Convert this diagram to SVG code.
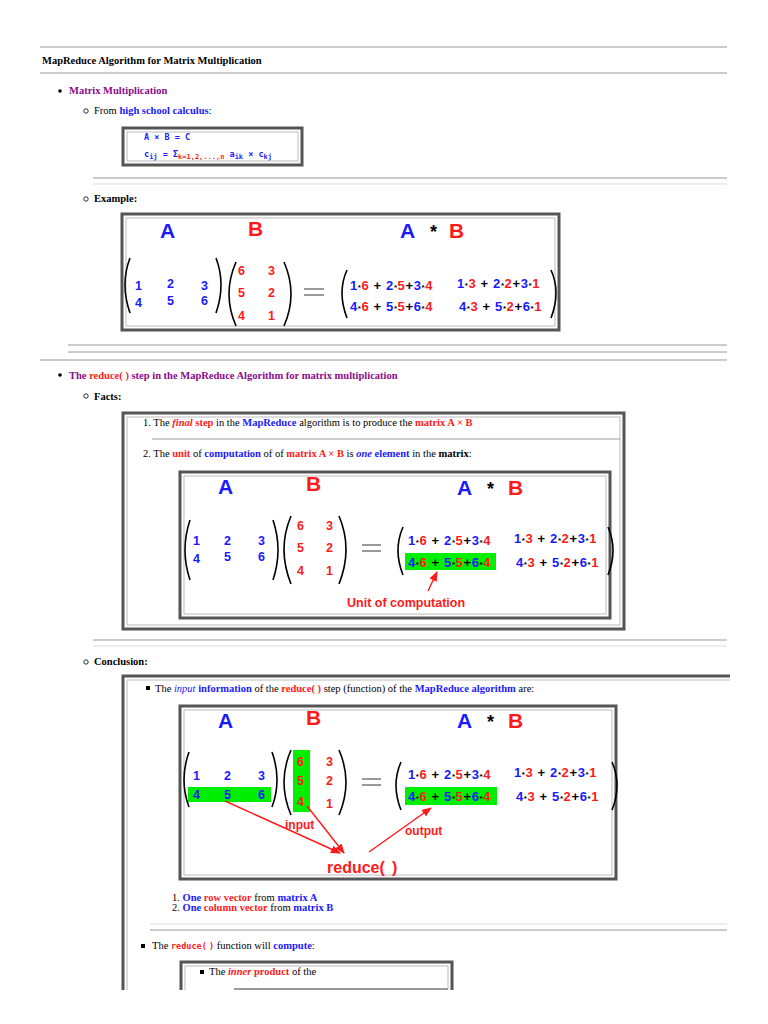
<svg xmlns="http://www.w3.org/2000/svg" width="768" height="1024" viewBox="0 0 768 1024">
<style>
.t{font-family:"Liberation Serif",serif;font-size:10.5px;fill:#000}
.b{font-weight:bold}
.bl{fill:#1a1aff}.rd{fill:#ff1a1a}.pu{fill:#8b0a8b}
.f{font-family:"Liberation Sans",sans-serif;font-weight:bold}
.big{font-size:21px}
.num{font-size:12.5px}
.res{font-size:13px;letter-spacing:0.6px}
.hr{stroke:#999;stroke-width:1.2}
.hr2{stroke:#ddd;stroke-width:1}
.frame{fill:#fff;stroke:#555;stroke-width:3}
.in{fill:none;stroke:#bbb;stroke-width:1}
.par{fill:none;stroke:#000;stroke-width:1.6}
.grn{fill:#00ee00}
.arr{stroke:#ff1a1a;stroke-width:1.4;fill:none;marker-end:url(#ah)}
.mono{font-family:"DejaVu Sans Mono",monospace;font-size:8.5px;font-weight:bold}
</style>
<defs>
<marker id="ah" markerWidth="10" markerHeight="8" refX="9" refY="4" orient="auto" markerUnits="userSpaceOnUse"><path d="M0,0 L10,4 L0,8 Z" fill="#ff1a1a"/></marker>
</defs>
<rect width="768" height="1024" fill="#fff"/>
<line class="hr" x1="40" y1="47" x2="727" y2="47"/>
<text class="t b" x="42" y="64" font-size="12.5">MapReduce Algorithm for Matrix Multiplication</text>
<line class="hr" x1="40" y1="73" x2="727" y2="73"/>

<circle cx="60" cy="91" r="1.8"/>
<text class="t b pu" x="69" y="94">Matrix Multiplication</text>
<circle cx="86" cy="111" r="2.2" fill="none" stroke="#000" stroke-width="0.8"/>
<text class="t" x="94" y="114">From <tspan class="b bl">high school calculus</tspan>:</text>

<g id="formula">
<rect x="123" y="128" width="179" height="37" fill="#fff" stroke="#555" stroke-width="3"/>
<rect x="127" y="132" width="171" height="29" class="in"/>
<text class="mono bl" x="144" y="140">A × B = C</text>
<text class="mono bl" x="144" y="157">c<tspan dy="2" font-size="7">ij</tspan><tspan dy="-2"> = Σ</tspan><tspan class="rd" dy="2" font-size="7">k=1,2,...,n</tspan><tspan dy="-2"> a</tspan><tspan dy="2" font-size="7">ik</tspan><tspan dy="-2"> × c</tspan><tspan dy="2" font-size="7">kj</tspan></text>
</g>
<line class="hr" x1="93" y1="178" x2="727" y2="178"/>
<line class="hr2" x1="93" y1="184" x2="727" y2="184"/>

<circle cx="86" cy="199" r="2.2" fill="none" stroke="#000" stroke-width="0.8"/>
<text class="t b" x="94" y="202">Example:</text>

<g id="example">
<rect x="122" y="214" width="437" height="116" class="frame"/>
<rect x="126" y="218" width="429" height="108" class="in"/>
<text class="f big bl" x="160" y="238">A</text>
<text class="f big rd" x="248" y="236">B</text>
<text class="f big bl" x="400" y="238">A</text>
<text class="f" x="430" y="238" font-size="18">*</text>
<text class="f big rd" x="449" y="238">B</text>
<path class="par" d="M130,258 Q120,284 130,313"/>
<path class="par" d="M216,258 Q226,284 216,313"/>
<g class="f num bl"><text x="135" y="290">1</text><text x="167" y="288">2</text><text x="201" y="290">3</text><text x="135" y="307">4</text><text x="167" y="305">5</text><text x="201" y="305">6</text></g>
<path class="par" d="M236,262 Q222,294 236,326"/>
<path class="par" d="M284,262 Q298,294 284,326"/>
<g class="f num rd"><text x="238" y="275">6</text><text x="268" y="275">3</text><text x="238" y="297">5</text><text x="268" y="297">2</text><text x="238" y="320">4</text><text x="268" y="320">1</text></g>
<line x1="304" y1="289" x2="324" y2="289" stroke="#555" stroke-width="1.2"/>
<line x1="304" y1="295" x2="324" y2="295" stroke="#555" stroke-width="1.2"/>
<path class="par" d="M347,270 Q337,292 347,318"/>
<path class="par" d="M551,270 Q561,292 551,318"/>
<g class="f res">
<text x="350" y="290"><tspan class="bl">1</tspan><tspan font-size="8">*</tspan><tspan class="rd">6</tspan> + <tspan class="bl">2</tspan><tspan font-size="8">*</tspan><tspan class="rd">5</tspan>+<tspan class="bl">3</tspan><tspan font-size="8">*</tspan><tspan class="rd">4</tspan></text>
<text x="457" y="288"><tspan class="bl">1</tspan><tspan font-size="8">*</tspan><tspan class="rd">3</tspan> + <tspan class="bl">2</tspan><tspan font-size="8">*</tspan><tspan class="rd">2</tspan>+<tspan class="bl">3</tspan><tspan font-size="8">*</tspan><tspan class="rd">1</tspan></text>
<text x="350" y="311"><tspan class="bl">4</tspan><tspan font-size="8">*</tspan><tspan class="rd">6</tspan> + <tspan class="bl">5</tspan><tspan font-size="8">*</tspan><tspan class="rd">5</tspan>+<tspan class="bl">6</tspan><tspan font-size="8">*</tspan><tspan class="rd">4</tspan></text>
<text x="459" y="311"><tspan class="bl">4</tspan><tspan font-size="8">*</tspan><tspan class="rd">3</tspan> + <tspan class="bl">5</tspan><tspan font-size="8">*</tspan><tspan class="rd">2</tspan>+<tspan class="bl">6</tspan><tspan font-size="8">*</tspan><tspan class="rd">1</tspan></text>
</g>
</g>
<line class="hr" x1="68" y1="345" x2="727" y2="345"/>
<line class="hr" x1="68" y1="352" x2="727" y2="352"/>
<line class="hr" x1="40" y1="360" x2="727" y2="360"/>

<circle cx="60" cy="375" r="1.8"/>
<text class="t b pu" x="69" y="379">The <tspan class="rd">reduce( )</tspan> step in the MapReduce Algorithm for matrix multiplication</text>
<circle cx="86" cy="396" r="2.2" fill="none" stroke="#000" stroke-width="0.8"/>
<text class="t b" x="94" y="400">Facts:</text>

<g id="facts">
<rect x="123" y="413" width="501" height="216" class="frame"/>
<rect x="127" y="417" width="493" height="208" class="in"/>
<text class="t" x="143" y="426">1. The <tspan class="b rd" font-style="italic">final</tspan> <tspan class="b rd">step</tspan> in the <tspan class="b bl">MapReduce</tspan> algorithm is to produce the <tspan class="b rd">matrix A × B</tspan></text>
<line class="hr" x1="152" y1="439" x2="620" y2="439"/>
<text class="t" x="143" y="457">2. The <tspan class="b rd">unit</tspan> of <tspan class="b bl">computation</tspan> of of <tspan class="b rd">matrix A × B</tspan> is <tspan class="b bl" font-style="italic">one</tspan> <tspan class="b bl">element</tspan> in the <tspan class="b">matrix</tspan>:</text>
</g>

<g id="fig2">
<rect x="180" y="472" width="430" height="146" class="frame"/>
<rect x="184" y="476" width="422" height="138" class="in"/>
<text class="f big bl" x="218" y="494">A</text>
<text class="f big rd" x="306" y="491">B</text>
<text class="f big bl" x="457" y="495">A</text>
<text class="f" x="487" y="495" font-size="18">*</text>
<text class="f big rd" x="508" y="495">B</text>
<path class="par" d="M190,520 Q180,550 190,580"/>
<path class="par" d="M273,520 Q283,550 273,580"/>
<g class="f num bl"><text x="193" y="545">1</text><text x="224" y="545">2</text><text x="258" y="545">3</text><text x="193" y="563">4</text><text x="224" y="561">5</text><text x="258" y="561">6</text></g>
<path class="par" d="M291,516 Q277,549 291,584"/>
<path class="par" d="M339,516 Q353,549 339,584"/>
<g class="f num rd"><text x="297" y="530">6</text><text x="326" y="530">3</text><text x="297" y="552">5</text><text x="326" y="552">2</text><text x="297" y="575">4</text><text x="326" y="575">1</text></g>
<line x1="362" y1="545" x2="381" y2="545" stroke="#555" stroke-width="1.2"/>
<line x1="362" y1="551" x2="381" y2="551" stroke="#555" stroke-width="1.2"/>
<path class="par" d="M403,527 Q393,550 403,575"/>
<path class="par" d="M608,527 Q618,550 608,575"/>
<rect x="405" y="553" width="91" height="17" class="grn"/>
<g class="f res">
<text x="408" y="545"><tspan class="bl">1</tspan><tspan font-size="8">*</tspan><tspan class="rd">6</tspan> + <tspan class="bl">2</tspan><tspan font-size="8">*</tspan><tspan class="rd">5</tspan>+<tspan class="bl">3</tspan><tspan font-size="8">*</tspan><tspan class="rd">4</tspan></text>
<text x="514" y="543"><tspan class="bl">1</tspan><tspan font-size="8">*</tspan><tspan class="rd">3</tspan> + <tspan class="bl">2</tspan><tspan font-size="8">*</tspan><tspan class="rd">2</tspan>+<tspan class="bl">3</tspan><tspan font-size="8">*</tspan><tspan class="rd">1</tspan></text>
<text x="408" y="567"><tspan class="bl">4</tspan><tspan font-size="8">*</tspan><tspan class="rd">6</tspan> + <tspan class="bl">5</tspan><tspan font-size="8">*</tspan><tspan class="rd">5</tspan>+<tspan class="bl">6</tspan><tspan font-size="8">*</tspan><tspan class="rd">4</tspan></text>
<text x="516" y="567"><tspan class="bl">4</tspan><tspan font-size="8">*</tspan><tspan class="rd">3</tspan> + <tspan class="bl">5</tspan><tspan font-size="8">*</tspan><tspan class="rd">2</tspan>+<tspan class="bl">6</tspan><tspan font-size="8">*</tspan><tspan class="rd">1</tspan></text>
</g>
<line class="arr" x1="428" y1="591" x2="437" y2="572"/>
<text class="f rd" x="347" y="607" font-size="12.5">Unit of computation</text>
</g>
<line class="hr" x1="93" y1="640" x2="727" y2="640"/>
<line class="hr2" x1="93" y1="646" x2="727" y2="646"/>

<circle cx="86" cy="662" r="2.2" fill="none" stroke="#000" stroke-width="0.8"/>
<text class="t b" x="94" y="665">Conclusion:</text>

<g id="conclusion">
<path d="M123,1000 L123,676 L730,676" fill="none" stroke="#555" stroke-width="3"/>
<path d="M127,1000 L127,680 L730,680" fill="none" stroke="#bbb" stroke-width="1"/>
<rect x="146" y="686" width="4" height="4"/>
<text class="t" x="155" y="692">The <tspan class="bl" font-style="italic">input</tspan> <tspan class="b bl">information</tspan> of the <tspan class="b rd">reduce( )</tspan> step (function) of the <tspan class="b bl">MapReduce algorithm</tspan> are:</text>
</g>

<g id="fig3">
<rect x="180" y="706" width="436" height="173" class="frame"/>
<rect x="184" y="710" width="428" height="165" class="in"/>
<text class="f big bl" x="218" y="728">A</text>
<text class="f big rd" x="306" y="725">B</text>
<text class="f big bl" x="457" y="728">A</text>
<text class="f" x="487" y="728" font-size="18">*</text>
<text class="f big rd" x="508" y="728">B</text>
<rect x="188" y="787" width="83" height="15" class="grn"/>
<rect x="293" y="750" width="17" height="62" class="grn"/>
<rect x="405" y="787" width="92" height="18" class="grn"/>
<path class="par" d="M189,752 Q179,780 189,807"/>
<path class="par" d="M272,752 Q282,780 272,807"/>
<g class="f num bl"><text x="193" y="780">1</text><text x="224" y="780">2</text><text x="258" y="780">3</text><text x="193" y="799">4</text><text x="224" y="799">5</text><text x="258" y="799">6</text></g>
<path class="par" d="M291,750 Q277,782 291,815"/>
<path class="par" d="M339,750 Q353,782 339,815"/>
<g class="f num rd"><text x="297" y="766">6</text><text x="326" y="766">3</text><text x="297" y="785">5</text><text x="326" y="785">2</text><text x="297" y="806">4</text><text x="326" y="808">1</text></g>
<line x1="362" y1="779" x2="381" y2="779" stroke="#555" stroke-width="1.2"/>
<line x1="362" y1="785" x2="381" y2="785" stroke="#555" stroke-width="1.2"/>
<path class="par" d="M401,762 Q391,785 401,810"/>
<path class="par" d="M612,762 Q622,785 612,810"/>
<g class="f res">
<text x="408" y="779"><tspan class="bl">1</tspan><tspan font-size="8">*</tspan><tspan class="rd">6</tspan> + <tspan class="bl">2</tspan><tspan font-size="8">*</tspan><tspan class="rd">5</tspan>+<tspan class="bl">3</tspan><tspan font-size="8">*</tspan><tspan class="rd">4</tspan></text>
<text x="514" y="777"><tspan class="bl">1</tspan><tspan font-size="8">*</tspan><tspan class="rd">3</tspan> + <tspan class="bl">2</tspan><tspan font-size="8">*</tspan><tspan class="rd">2</tspan>+<tspan class="bl">3</tspan><tspan font-size="8">*</tspan><tspan class="rd">1</tspan></text>
<text x="408" y="801"><tspan class="bl">4</tspan><tspan font-size="8">*</tspan><tspan class="rd">6</tspan> + <tspan class="bl">5</tspan><tspan font-size="8">*</tspan><tspan class="rd">5</tspan>+<tspan class="bl">6</tspan><tspan font-size="8">*</tspan><tspan class="rd">4</tspan></text>
<text x="516" y="801"><tspan class="bl">4</tspan><tspan font-size="8">*</tspan><tspan class="rd">3</tspan> + <tspan class="bl">5</tspan><tspan font-size="8">*</tspan><tspan class="rd">2</tspan>+<tspan class="bl">6</tspan><tspan font-size="8">*</tspan><tspan class="rd">1</tspan></text>
</g>
<line class="arr" x1="225" y1="801" x2="340" y2="853"/>
<line class="arr" x1="307" y1="806" x2="344" y2="853"/>
<line class="arr" x1="369" y1="852" x2="431" y2="808"/>
<text class="f rd" x="285" y="829" font-size="12">input</text>
<text class="f rd" x="405" y="835" font-size="12">output</text>
<text class="f rd" x="327" y="873" font-size="16">reduce(<tspan x="392">)</tspan></text>
</g>

<text class="t" x="172" y="901">1. <tspan class="b bl">One</tspan> <tspan class="b rd">row vector</tspan> from <tspan class="b bl">matrix A</tspan></text>
<text class="t" x="172" y="911">2. <tspan class="b bl">One</tspan> <tspan class="b rd">column vector</tspan> from <tspan class="b bl">matrix B</tspan></text>
<line class="hr2" x1="150" y1="924" x2="727" y2="924"/>
<line class="hr" x1="150" y1="930" x2="727" y2="930"/>
<rect x="141" y="944" width="4" height="4"/>
<text class="t" x="152" y="949">The <tspan class="mono rd" font-weight="normal">reduce(</tspan><tspan x="209" class="mono rd" font-weight="normal">)</tspan><tspan> function will </tspan><tspan class="b bl">compute</tspan>:</text>

<g id="inner">
<path d="M181,995 L181,962 L452,962 L452,995" fill="none" stroke="#555" stroke-width="3"/>
<path d="M185,995 L185,966 L448,966 L448,995" fill="none" stroke="#bbb" stroke-width="1"/>
<rect x="200" y="970" width="4" height="4"/>
<text class="t" x="209" y="975">The <tspan class="b rd" font-style="italic">inner</tspan> <tspan class="b rd">product</tspan> of the</text>
<line x1="234" y1="989" x2="448" y2="989" stroke="#777" stroke-width="1.5"/>
</g>
<rect x="0" y="990" width="768" height="34" fill="#fff"/>
</svg>
